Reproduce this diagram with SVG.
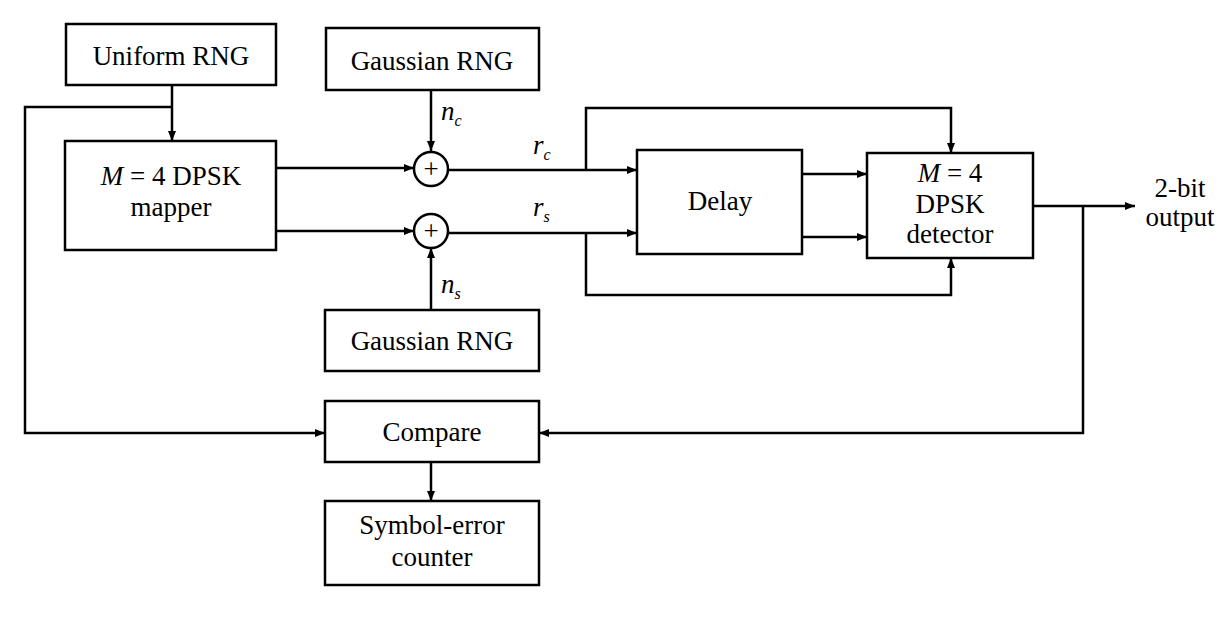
<svg xmlns="http://www.w3.org/2000/svg" width="1228" height="642" viewBox="0 0 1228 642">
<style>
rect,circle{fill:#fff;stroke:#000;stroke-width:2.5}
.c path{fill:none;stroke:#000;stroke-width:2.5}
text{font-family:"Liberation Serif",serif;font-size:27px;text-anchor:middle;fill:#000}
.i{font-style:italic}
.l{text-anchor:start}
</style>
<defs><marker id="a" viewBox="0 0 10 10" refX="10" refY="5" markerWidth="4" markerHeight="4" orient="auto"><path d="M0,1L10,5L0,9z"/></marker></defs>
<rect width="1228" height="642" style="fill:#fff;stroke:none"/>
<g class="c" marker-end="url(#a)">
<path d="M172,85V141"/>
<path d="M172,107H25V433H325"/>
<path d="M276,168H414"/>
<path d="M276,231H414"/>
<path d="M431,90V151"/>
<path d="M431,310V248"/>
<path d="M448,170H637"/>
<path d="M448,233H637"/>
<path d="M586,170V108H951V153"/>
<path d="M586,233V295H951V258"/>
<path d="M802,174H867"/>
<path d="M802,237H867"/>
<path d="M1033,206H1135"/>
<path d="M1083,206V433H539"/>
<path d="M431,462V501"/>
</g>
<g id="uniform"><rect x="66" y="24" width="210" height="61"/><text x="171" y="65">Uniform RNG</text></g>
<g id="gauss1"><rect x="326" y="28" width="213" height="62"/><text x="432" y="70">Gaussian RNG</text></g>
<g id="mapper"><rect x="65" y="141" width="211" height="109"/><text x="171" y="185"><tspan class="i">M</tspan> = 4 DPSK</text><text x="171" y="216">mapper</text></g>
<g id="sum1"><circle cx="431" cy="169" r="17"/><text x="431" y="178">+</text></g>
<g id="sum2"><circle cx="431" cy="231" r="17"/><text x="431" y="240">+</text></g>
<g id="gauss2"><rect x="325" y="310" width="214" height="61"/><text x="432" y="350">Gaussian RNG</text></g>
<g id="delay"><rect x="637" y="150" width="165" height="104"/><text x="720" y="210">Delay</text></g>
<g id="detector"><rect x="867" y="153" width="166" height="105"/><text x="950" y="182"><tspan class="i">M</tspan> = 4</text><text x="950" y="213">DPSK</text><text x="950" y="243">detector</text></g>
<g id="compare"><rect x="325" y="401" width="214" height="61"/><text x="432" y="441">Compare</text></g>
<g id="counter"><rect x="325" y="501" width="214" height="84"/><text x="432" y="534">Symbol-error</text><text x="432" y="566">counter</text></g>
<g id="labels">
<text x="441" y="120" class="i l">n<tspan font-size="16" dy="6">c</tspan></text>
<text x="441" y="293" class="i l">n<tspan font-size="16" dy="6">s</tspan></text>
<text x="533" y="154" class="i l">r<tspan font-size="16" dy="6">c</tspan></text>
<text x="533" y="216" class="i l">r<tspan font-size="16" dy="6">s</tspan></text>
<text x="1180" y="197" font-size="25">2-bit</text><text x="1180" y="226" font-size="25">output</text>
</g>
</svg>
